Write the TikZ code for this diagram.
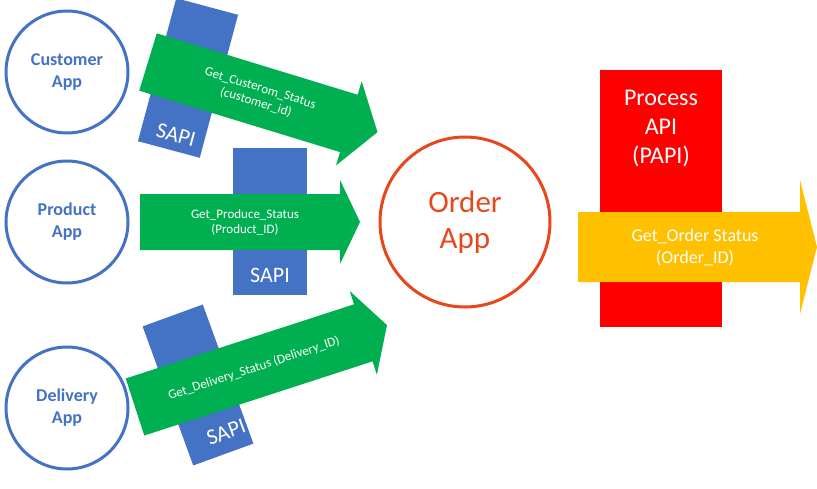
\documentclass[tikz,border=0pt]{standalone}
\usepackage{fontspec}
\setmainfont{Carlito}
\begin{document}
\begin{tikzpicture}[x=1pt,y=-1pt,
  app/.style={circle,draw=appblue,line width=3pt,fill=white,minimum size=122pt,inner sep=0pt,align=center,text=appblue,font=\fontsize{18}{22}\selectfont\bfseries},
  sapi/.style={fill=sapiblue,minimum width=64pt,minimum height=148pt,inner sep=0pt},
  sapilbl/.style={text=white,font=\fontsize{22}{24}\selectfont},
  albl/.style={text=white,align=center,transform shape,font=\fontsize{13}{15}\selectfont}]
\definecolor{appblue}{HTML}{4472C4}
\definecolor{sapiblue}{HTML}{4472C4}
\definecolor{agreen}{HTML}{00B050}
\definecolor{ayellow}{HTML}{FFC000}
\definecolor{ored}{HTML}{E8471C}
\useasboundingbox (0,0) rectangle (817,488);
% SAPI rectangles
\node[sapi,rotate=-15] (s1) at (188,78) {};
\node[sapilbl,rotate=-15] (s1l) at (176,135) {SAPI};
\node[sapi,minimum width=74pt,minimum height=147pt] (s2) at (270,221) {};
\node[sapilbl] (s2l) at (270,275) {SAPI};
\node[sapi,rotate=20] (s3) at (198,385) {};
\node[sapilbl,rotate=20] (s3l) at (226,432) {SAPI};
% green arrows
\begin{scope}[shift={(148,62)},rotate=-17]
\fill[agreen] (0,-30) -- (210,-30) -- (210,-44) -- (240,0) -- (210,44) -- (210,30) -- (0,30) -- cycle;
\node[albl] (a1) at (115,0) {Get\_Custerom\_Status\\(customer\_id)};
\end{scope}
\begin{scope}[shift={(140,222)}]
\fill[agreen] (0,-28) -- (200,-28) -- (200,-42) -- (220,0) -- (200,42) -- (200,28) -- (0,28) -- cycle;
\node[albl] (a2) at (105,0) {Get\_Produce\_Status\\(Product\_ID)};
\end{scope}
\begin{scope}[shift={(135,407)},rotate=18]
\fill[agreen] (0,-30) -- (240,-30) -- (240,-44) -- (265,0) -- (240,44) -- (240,30) -- (0,30) -- cycle;
\node[albl] (a3) at (125,0) {Get\_Delivery\_Status (Delivery\_ID)};
\end{scope}
% apps
\node[app] (c) at (67,72) {Customer\\App};
\node[app] (p) at (67,222) {Product\\App};
\node[app] (d) at (67,408) {Delivery\\App};
\node[circle,draw=ored,line width=3pt,minimum size=170pt,inner sep=0pt,align=center,text=ored,font=\fontsize{31}{36}\selectfont] (o) at (465,222) {Order\\App};
% process API
\node[fill=red,minimum width=122pt,minimum height=257pt,inner sep=0pt] (pa) at (661,198) {};
\node[text=white,align=center,font=\fontsize{24}{29}\selectfont] (pal) at (661,128) {Process\\API\\(PAPI)};
\begin{scope}[shift={(578,247)}]
\fill[ayellow] (0,-35) -- (222,-35) -- (222,-67) -- (239,0) -- (222,67) -- (222,35) -- (0,35) -- cycle;
\node[text=white,align=center,font=\fontsize{18}{22}\selectfont] (yl) at (117,0) {Get\_Order Status\\(Order\_ID)};
\end{scope}
\end{tikzpicture}
\end{document}
